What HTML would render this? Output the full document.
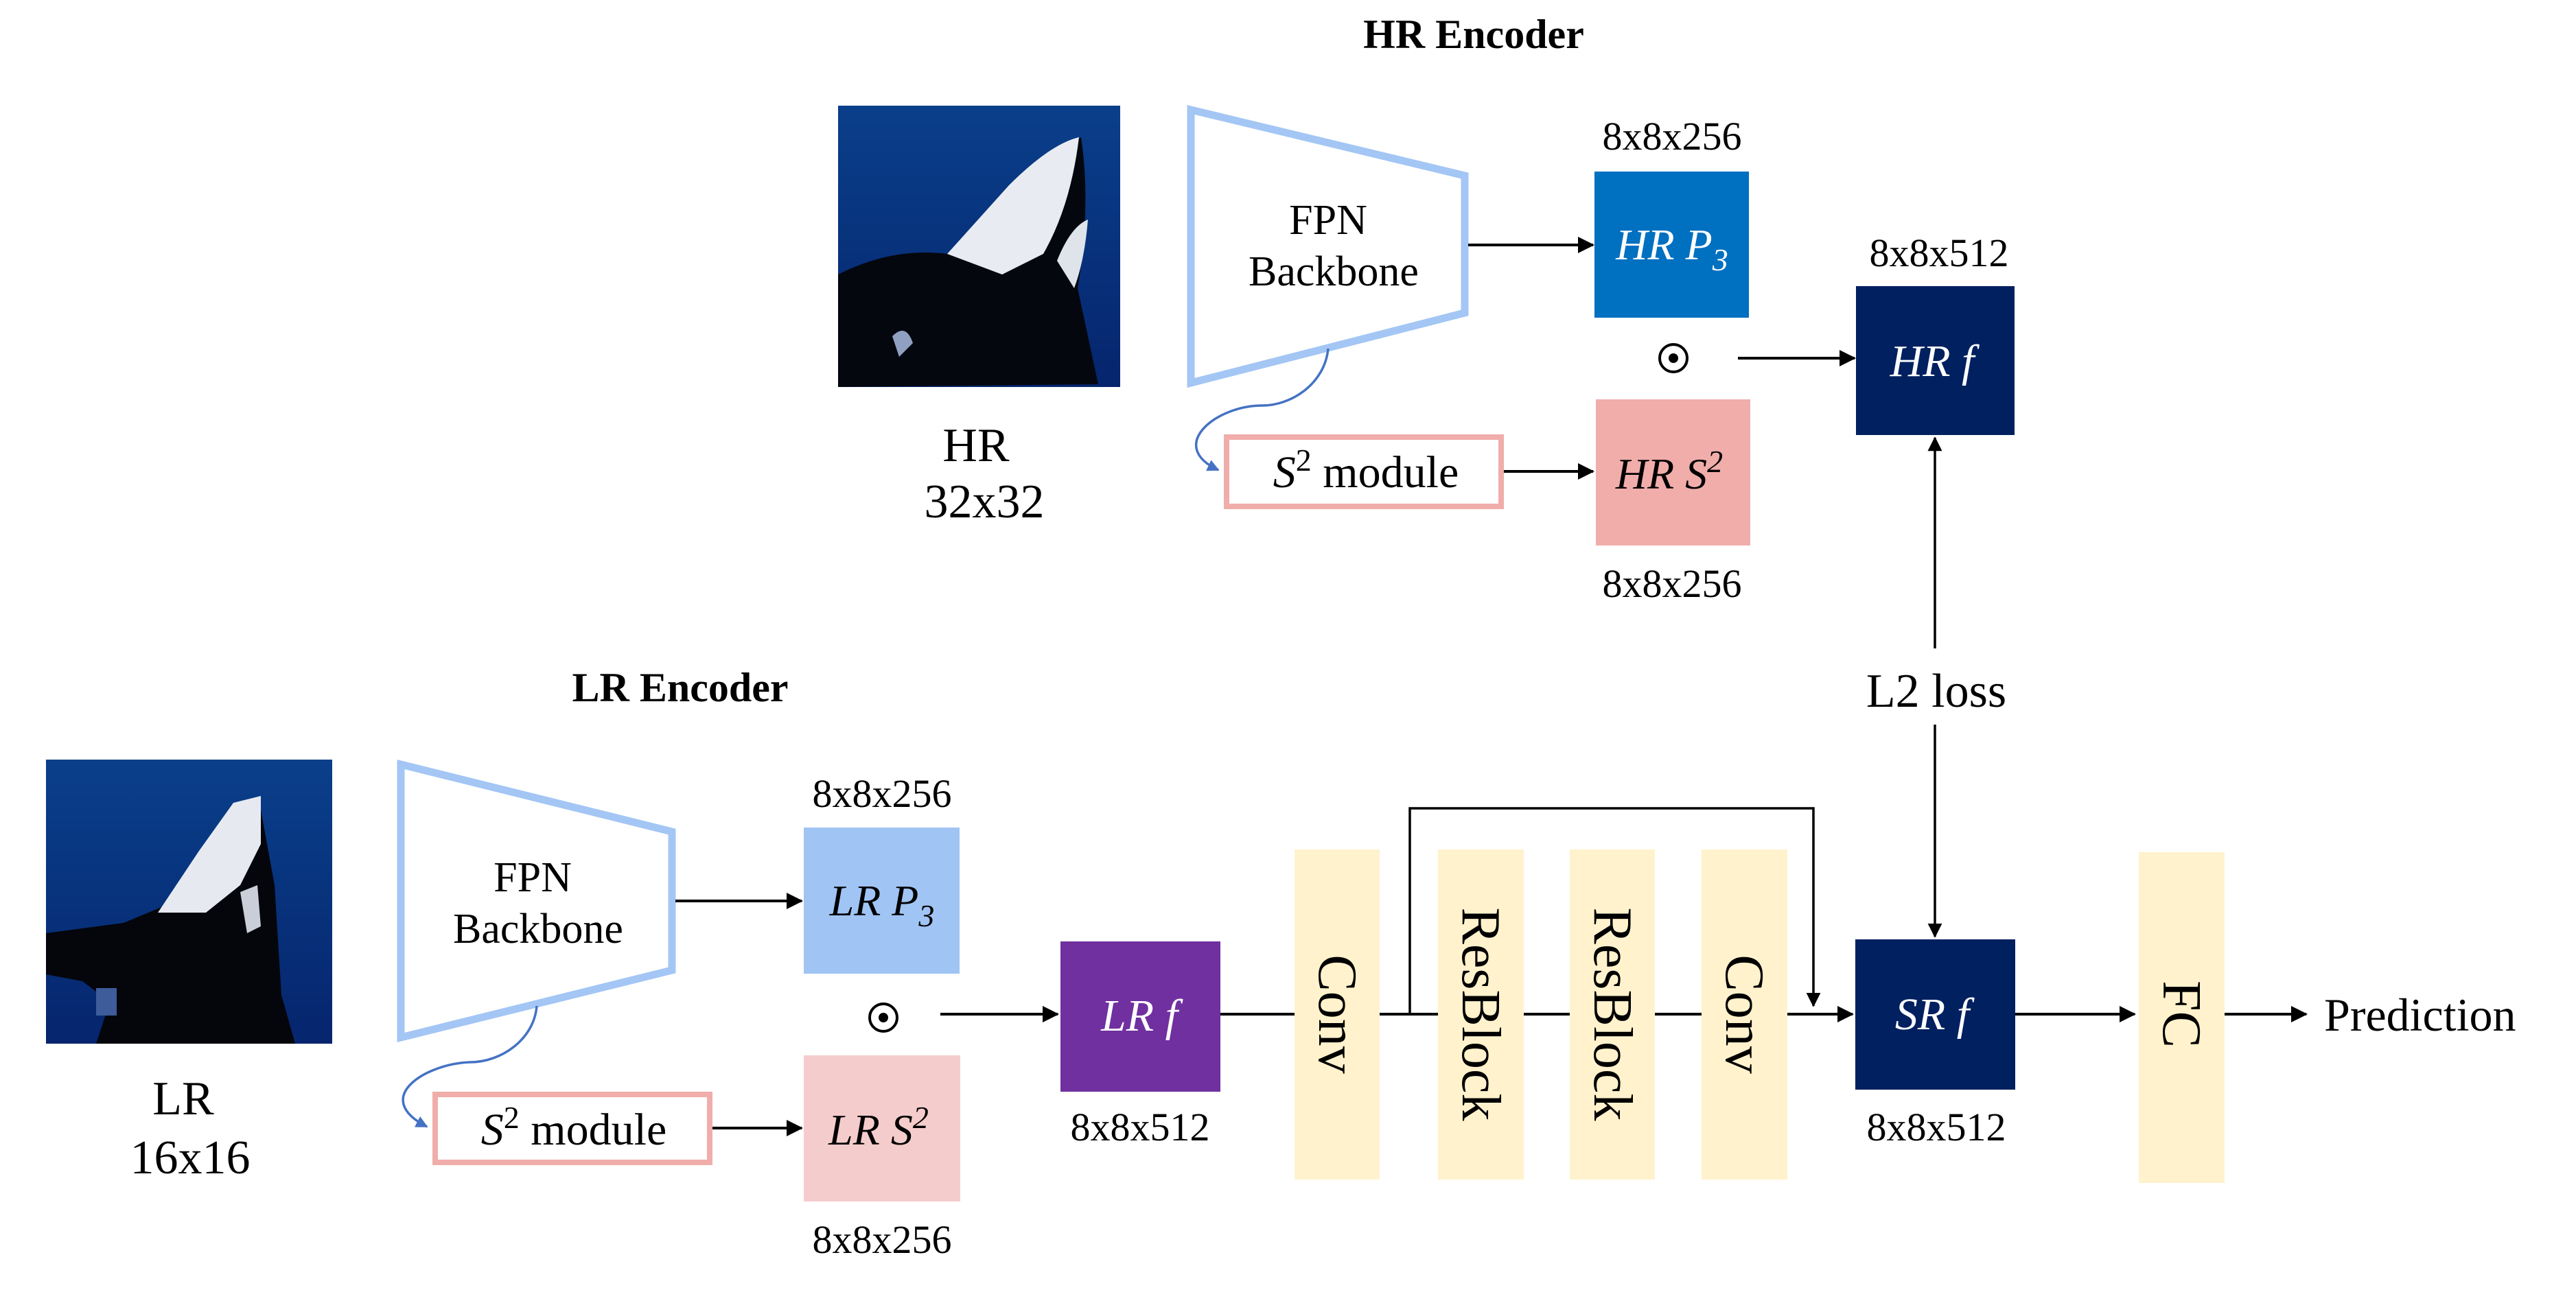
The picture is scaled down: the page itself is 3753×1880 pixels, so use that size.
<!DOCTYPE html>
<html><head><meta charset="utf-8"><style>html,body{margin:0;padding:0;background:#fff}svg{display:block}</style></head>
<body>
<svg width="3753" height="1880" viewBox="0 0 3753 1880" xmlns="http://www.w3.org/2000/svg" font-family="'Liberation Serif', serif">
<defs>
<marker id="ah" markerWidth="6" markerHeight="6" refX="5.5" refY="3" orient="auto" markerUnits="strokeWidth"><path d="M0,0 L6,3 L0,6 Z" fill="#000"/></marker>
<marker id="ab" markerWidth="5" markerHeight="5" refX="4.5" refY="2.5" orient="auto" markerUnits="strokeWidth"><path d="M0,0 L5,2.5 L0,5 Z" fill="#4472C4"/></marker>
<linearGradient id="sea" x1="0" y1="0" x2="0" y2="1"><stop offset="0" stop-color="#0a3f8a"/><stop offset="1" stop-color="#06256e"/></linearGradient>
</defs>

<text x="2147" y="70" font-size="60" font-weight="bold" text-anchor="middle">HR Encoder</text>
<text x="991" y="1022" font-size="60" font-weight="bold" text-anchor="middle">LR Encoder</text>

<g>
<rect x="1221" y="154" width="411" height="410" fill="url(#sea)"/>
<path d="M1221,400 Q1300,360 1380,370 L1470,280 Q1530,220 1575,200 Q1590,300 1570,420 L1600,560 L1221,564 Z" fill="#05070f"/>
<path d="M1380,370 L1470,270 Q1530,210 1572,200 Q1560,300 1520,370 L1460,400 Z" fill="#e8ecf2"/>
<path d="M1540,380 Q1560,330 1585,320 Q1580,380 1565,420 Z" fill="#dfe4ea"/>
<path d="M1300,490 Q1320,470 1330,500 L1310,520 Z" fill="#8fa0c0"/>
</g>
<text x="1422" y="672" font-size="70" text-anchor="middle">HR</text>
<text x="1434" y="754" font-size="70" text-anchor="middle">32x32</text>

<polygon points="1735,160 2134,256 2134,456 1735,558" fill="#fff" stroke="#A3C6F4" stroke-width="11"/>
<text x="1935" y="341" font-size="62" text-anchor="middle">FPN</text>
<text x="1943" y="416" font-size="62" text-anchor="middle">Backbone</text>

<text x="2436" y="218" font-size="58" text-anchor="middle">8x8x256</text>
<rect x="2323" y="250" width="225" height="213" fill="#0070C0"/>
<text x="2436" y="378" font-size="64" font-style="italic" fill="#fff" text-anchor="middle">HR P<tspan font-size="46" dy="16">3</tspan></text>
<line x1="2139" y1="357" x2="2321" y2="357" stroke="#000" stroke-width="4" marker-end="url(#ah)"/>

<circle cx="2438" cy="522" r="20" fill="none" stroke="#000" stroke-width="4"/>
<circle cx="2438" cy="522" r="7" fill="#000"/>
<line x1="2532" y1="522" x2="2702" y2="522" stroke="#000" stroke-width="4" marker-end="url(#ah)"/>

<rect x="2325" y="582" width="225" height="213" fill="#F0ADAA"/>
<text x="2432" y="712" font-size="64" font-style="italic" text-anchor="middle">HR S<tspan font-size="46" dy="-24">2</tspan></text>
<text x="2436" y="870" font-size="58" text-anchor="middle">8x8x256</text>

<rect x="1787" y="637" width="400" height="101" fill="#fff" stroke="#F0ADAA" stroke-width="8"/>
<text x="1990" y="710" font-size="66" text-anchor="middle"><tspan font-style="italic">S</tspan><tspan font-size="46" dy="-24">2</tspan><tspan dy="24"> module</tspan></text>
<line x1="2191" y1="687" x2="2321" y2="687" stroke="#000" stroke-width="4" marker-end="url(#ah)"/>
<path d="M1935,508 C1930,560 1880,592 1837,591 C1770,592 1700,650 1775,685" fill="none" stroke="#4472C4" stroke-width="3.5" marker-end="url(#ab)"/>

<text x="2825" y="388" font-size="58" text-anchor="middle">8x8x512</text>
<rect x="2704" y="417" width="231" height="217" fill="#002060"/>
<text x="2815" y="548" font-size="66" font-style="italic" fill="#fff" text-anchor="middle">HR f</text>

<line x1="2819" y1="945" x2="2819" y2="638" stroke="#000" stroke-width="3.5" marker-end="url(#ah)"/>
<text x="2821" y="1030" font-size="70" text-anchor="middle">L2 loss</text>
<line x1="2819" y1="1056" x2="2819" y2="1365" stroke="#000" stroke-width="3.5" marker-end="url(#ah)"/>

<g>
<rect x="67" y="1107" width="417" height="414" fill="url(#sea)"/>
<path d="M67,1360 L180,1345 L240,1320 L330,1260 L380,1180 L400,1290 L410,1450 L430,1521 L140,1521 L160,1460 L120,1430 L67,1420 Z" fill="#04060c"/>
<path d="M230,1330 L290,1240 L340,1170 L380,1160 L380,1230 L350,1290 L300,1330 Z" fill="#e6eaf0"/>
<path d="M350,1300 L375,1290 L380,1350 L360,1360 Z" fill="#c9ced8"/>
<rect x="140" y="1440" width="30" height="40" fill="#3e5c9a"/>
</g>
<text x="267" y="1624" font-size="70" text-anchor="middle">LR</text>
<text x="277" y="1710" font-size="70" text-anchor="middle">16x16</text>

<polygon points="584,1114 979,1212 979,1414 584,1512" fill="#fff" stroke="#A3C6F4" stroke-width="11"/>
<text x="776" y="1299" font-size="62" text-anchor="middle">FPN</text>
<text x="784" y="1374" font-size="62" text-anchor="middle">Backbone</text>

<text x="1285" y="1176" font-size="58" text-anchor="middle">8x8x256</text>
<rect x="1171" y="1206" width="227" height="213" fill="#A0C4F4"/>
<text x="1285" y="1334" font-size="64" font-style="italic" text-anchor="middle">LR P<tspan font-size="46" dy="16">3</tspan></text>
<line x1="984" y1="1313" x2="1168" y2="1313" stroke="#000" stroke-width="4" marker-end="url(#ah)"/>

<circle cx="1287" cy="1483" r="20" fill="none" stroke="#000" stroke-width="4"/>
<circle cx="1287" cy="1483" r="7" fill="#000"/>
<line x1="1370" y1="1478" x2="1541" y2="1478" stroke="#000" stroke-width="4" marker-end="url(#ah)"/>

<rect x="1171" y="1538" width="228" height="213" fill="#F5CCCC"/>
<text x="1280" y="1668" font-size="64" font-style="italic" text-anchor="middle">LR S<tspan font-size="46" dy="-24">2</tspan></text>
<text x="1285" y="1826" font-size="58" text-anchor="middle">8x8x256</text>

<rect x="634" y="1595" width="400" height="99" fill="#fff" stroke="#F0ADAA" stroke-width="8"/>
<text x="836" y="1668" font-size="66" text-anchor="middle"><tspan font-style="italic">S</tspan><tspan font-size="46" dy="-24">2</tspan><tspan dy="24"> module</tspan></text>
<line x1="1038" y1="1644" x2="1168" y2="1644" stroke="#000" stroke-width="4" marker-end="url(#ah)"/>
<path d="M782,1466 C778,1515 730,1548 685,1548 C620,1550 540,1600 622,1642" fill="none" stroke="#4472C4" stroke-width="3.5" marker-end="url(#ab)"/>

<rect x="1545" y="1372" width="233" height="219" fill="#7030A0"/>
<text x="1660" y="1502" font-size="66" font-style="italic" fill="#fff" text-anchor="middle">LR f</text>
<text x="1661" y="1662" font-size="58" text-anchor="middle">8x8x512</text>

<line x1="1778" y1="1478" x2="1886" y2="1478" stroke="#000" stroke-width="4"/>
<line x1="2010" y1="1478" x2="2095" y2="1478" stroke="#000" stroke-width="4"/>
<line x1="2220" y1="1478" x2="2287" y2="1478" stroke="#000" stroke-width="4"/>
<line x1="2411" y1="1478" x2="2479" y2="1478" stroke="#000" stroke-width="4"/>
<line x1="2604" y1="1478" x2="2699" y2="1478" stroke="#000" stroke-width="4" marker-end="url(#ah)"/>

<rect x="1886" y="1238" width="124" height="481" fill="#FFF2CC"/>
<rect x="2095" y="1238" width="125" height="481" fill="#FFF2CC"/>
<rect x="2287" y="1238" width="124" height="481" fill="#FFF2CC"/>
<rect x="2479" y="1238" width="125" height="481" fill="#FFF2CC"/>
<rect x="3116" y="1242" width="125" height="482" fill="#FFF2CC"/>
<text transform="translate(1948,1478) rotate(90)" font-size="80" text-anchor="middle" dominant-baseline="central">Conv</text>
<text transform="translate(2157,1478) rotate(90)" font-size="80" text-anchor="middle" dominant-baseline="central">ResBlock</text>
<text transform="translate(2349,1478) rotate(90)" font-size="80" text-anchor="middle" dominant-baseline="central">ResBlock</text>
<text transform="translate(2541,1478) rotate(90)" font-size="80" text-anchor="middle" dominant-baseline="central">Conv</text>
<text transform="translate(3178,1478) rotate(90)" font-size="80" text-anchor="middle" dominant-baseline="central">FC</text>

<polyline points="2054,1478 2054,1178 2642,1178 2642,1466" fill="none" stroke="#000" stroke-width="3.5" marker-end="url(#ah)"/>

<rect x="2703" y="1369" width="233" height="219" fill="#002060"/>
<text x="2815" y="1500" font-size="66" font-style="italic" fill="#fff" text-anchor="middle">SR f</text>
<text x="2821" y="1662" font-size="58" text-anchor="middle">8x8x512</text>

<line x1="2936" y1="1478" x2="3110" y2="1478" stroke="#000" stroke-width="4" marker-end="url(#ah)"/>
<line x1="3241" y1="1478" x2="3360" y2="1478" stroke="#000" stroke-width="4" marker-end="url(#ah)"/>
<text x="3386" y="1502" font-size="68">Prediction</text>
</svg>
</body></html>
